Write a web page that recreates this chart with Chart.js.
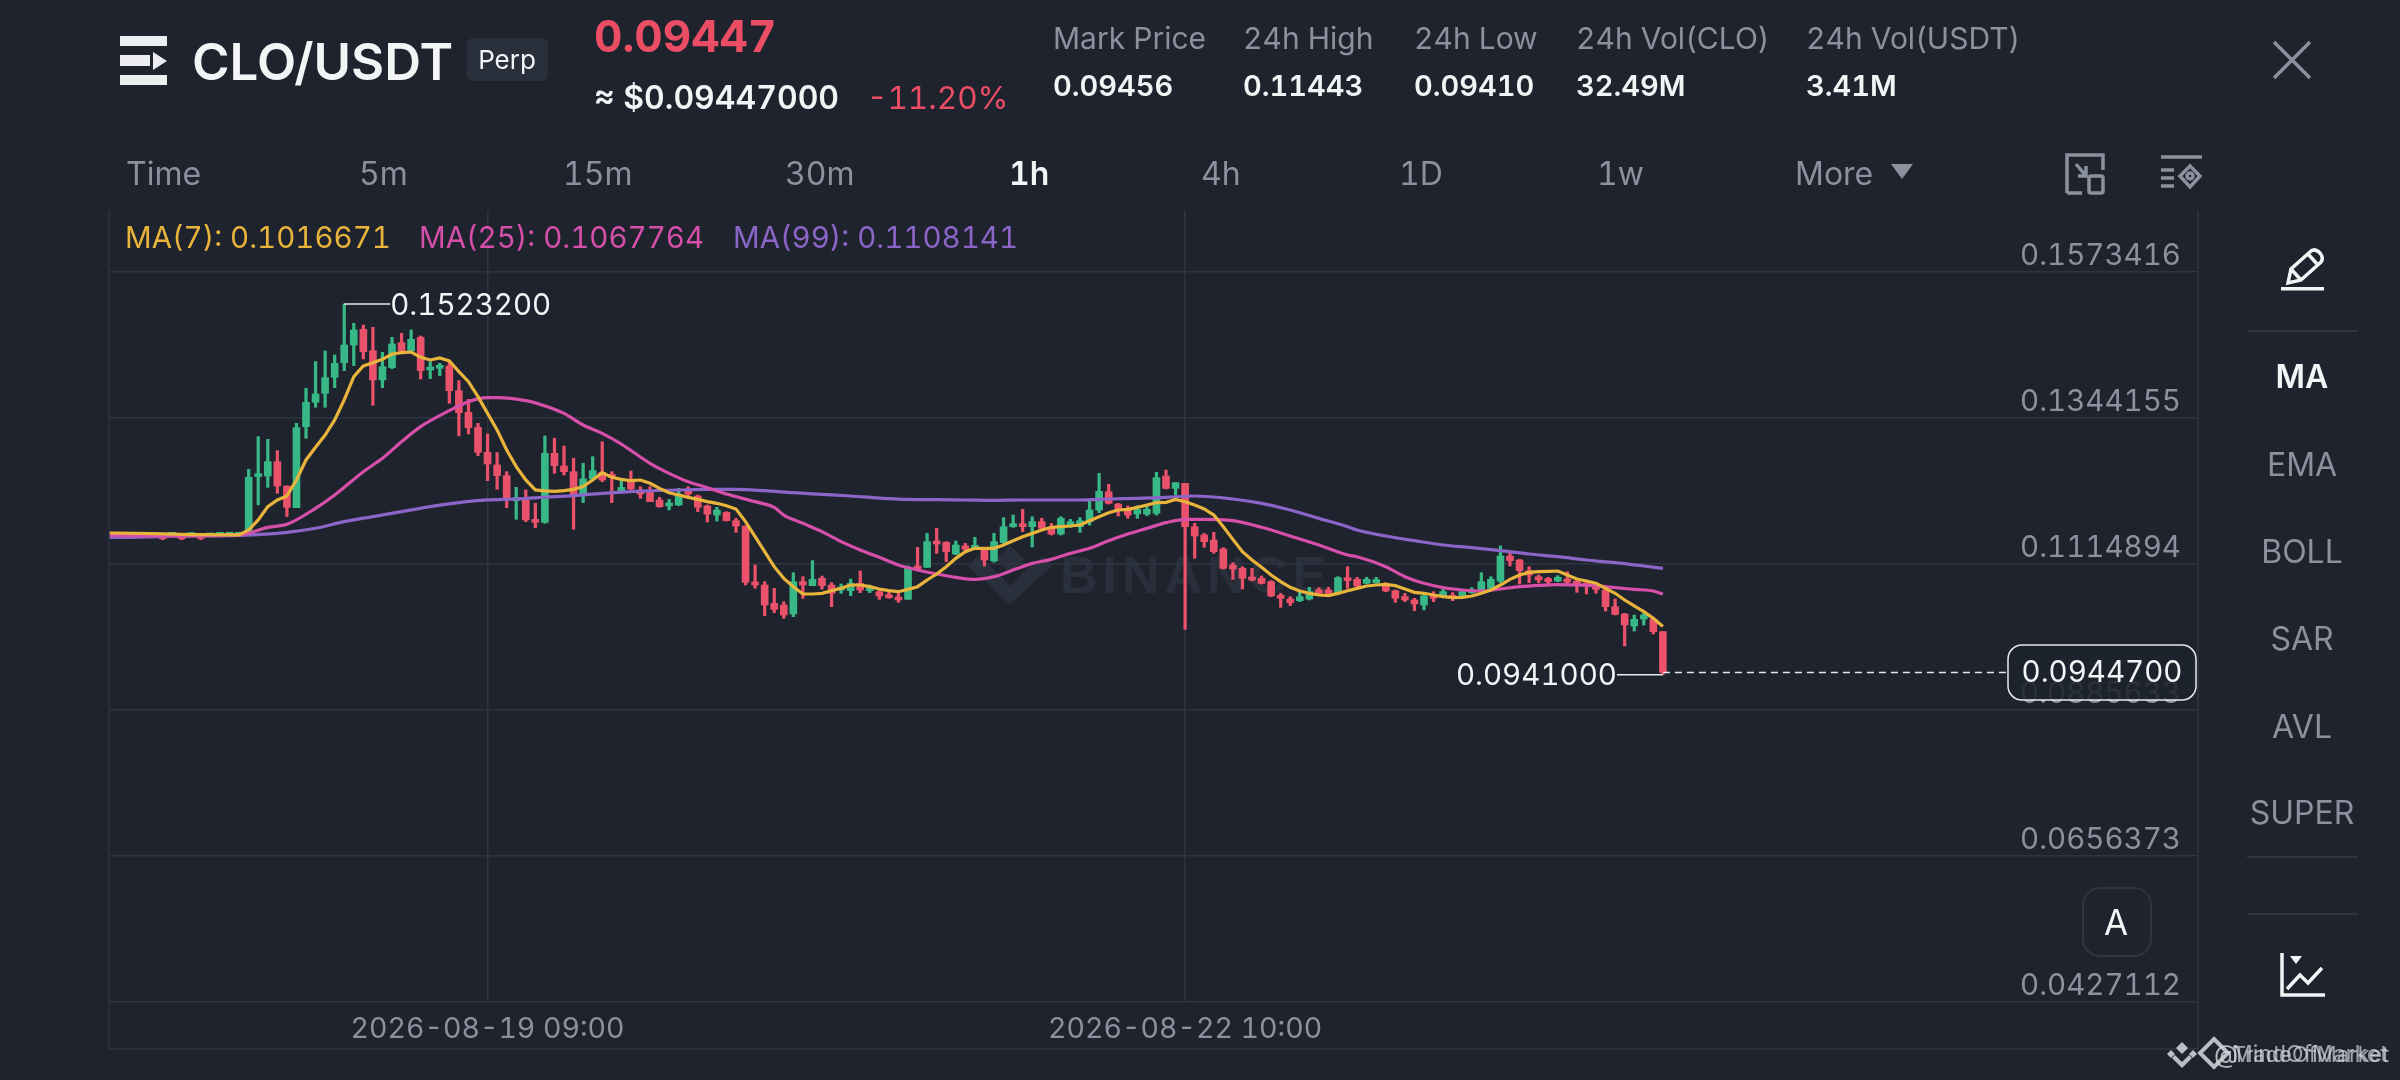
<!DOCTYPE html>
<html><head><meta charset="utf-8">
<script src="https://cdn.jsdelivr.net/npm/chart.js@4"></script>
<style>
html,body{margin:0;padding:0;width:2400px;height:1080px;overflow:hidden;background:#1e232e;font-family:Inter,"Noto Sans",sans-serif;font-variant-numeric:tabular-nums}
#c{position:absolute;left:0;top:0;z-index:2}
.t{position:absolute;white-space:nowrap;line-height:1;transform:translateY(-50%);z-index:3}
.m{position:absolute;white-space:nowrap;line-height:1;transform:translate(-50%,-50%);z-index:3}
.g{color:#8b929e}.w{color:#f3f4f6}.r{color:#ea4d64}
svg{position:absolute;z-index:3}
.h{position:absolute;height:2px;background:#2f3540;z-index:3}
</style></head><body>
<svg style="left:0;top:0;z-index:1" width="2400" height="1080">
<g fill="#2a303b"><path d="M1010 547l14 14-14 14-14-14zM1010 607l-32-31 10-10 22 22 22-22 10 10zM978 558l10 10-10 10-10-10zM1042 558l10 10-10 10-10-10z" transform="translate(0,-2)"/></g>
<text x="1060" y="593" font-family="Liberation Sans" font-weight="700" font-size="52" letter-spacing="5" fill="#2a303b">BINANCE</text>
</svg>

<svg style="left:0;top:0" width="260" height="100"><g fill="#eceef1"><rect x="120" y="36" width="47" height="10"/><rect x="120" y="75" width="47" height="10"/><rect x="120" y="55" width="30" height="11"/><path d="M153 52l14 9-14 9z"/></g></svg>
<div class="t w" style="left:192px;top:61px;font-size:51px;font-weight:600">CLO/USDT</div>
<div style="position:absolute;left:467px;top:38px;width:81px;height:43px;background:#2a303b;border-radius:6px;z-index:2"></div>
<div class="m w" style="left:507px;top:60px;font-size:26px">Perp</div>
<div class="t r" style="left:594px;top:36px;font-size:44px;font-weight:700">0.09447</div>
<div class="t w" style="left:594px;top:98px;font-size:32px;font-weight:600">≈ $0.09447000</div>
<div class="t r" style="left:867px;top:98px;font-size:31.5px;font-weight:400">-11.20%</div>

<div class="t g" style="left:1053px;top:38px;font-size:30px">Mark Price</div>
<div class="t g" style="left:1243px;top:38px;font-size:30px">24h High</div>
<div class="t g" style="left:1414px;top:38px;font-size:30px">24h Low</div>
<div class="t g" style="left:1576px;top:38px;font-size:30px">24h Vol(CLO)</div>
<div class="t g" style="left:1806px;top:38px;font-size:30px">24h Vol(USDT)</div>
<div class="t w" style="left:1053px;top:85px;font-size:29px;font-weight:600">0.09456</div>
<div class="t w" style="left:1243px;top:85px;font-size:29px;font-weight:600">0.11443</div>
<div class="t w" style="left:1414px;top:85px;font-size:29px;font-weight:600">0.09410</div>
<div class="t w" style="left:1576px;top:85px;font-size:29px;font-weight:600">32.49M</div>
<div class="t w" style="left:1806px;top:85px;font-size:29px;font-weight:600">3.41M</div>
<svg style="left:2270px;top:38px" width="44" height="44"><path d="M4 4L40 40M40 4L4 40" stroke="#8b929e" stroke-width="3.5" fill="none"/></svg>

<div class="t g" style="left:126px;top:174px;font-size:32px">Time</div>
<div class="t g" style="left:359px;top:174px;font-size:32px">5m</div>
<div class="t g" style="left:563px;top:174px;font-size:32px">15m</div>
<div class="t g" style="left:785px;top:174px;font-size:32px">30m</div>
<div class="t w" style="left:1009px;top:174px;font-size:32px;font-weight:600">1h</div>
<div class="t g" style="left:1201px;top:174px;font-size:32px">4h</div>
<div class="t g" style="left:1399px;top:174px;font-size:32px">1D</div>
<div class="t g" style="left:1597px;top:174px;font-size:32px">1w</div>
<div class="t g" style="left:1795px;top:174px;font-size:32px">More</div>
<svg style="left:1890px;top:163px" width="24" height="18"><path d="M1 1H23L12 16z" fill="#8b929e"/></svg>
<svg style="left:2064px;top:150px" width="44" height="46" fill="none" stroke="#8b929e" stroke-width="3.5"><path d="M3 43V5H39V20M3 43H18M12 14L22 26M22 16V26H14"/><rect x="25" y="26" width="14" height="17" rx="2"/></svg>
<svg style="left:2158px;top:152px" width="46" height="42" fill="none" stroke="#8b929e" stroke-width="3.5"><path d="M3 5H44M3 18H16M3 26H16M3 34H16M32 14L42 24L32 35L22 24z"/><circle cx="32" cy="24" r="3"/></svg>

<div class="t" id="lg7" style="left:125px;top:238px;font-size:29.5px;color:#e9b43c"></div>
<div class="t" id="lg25" style="left:419px;top:238px;font-size:29.5px;color:#d64fa8"></div>
<div class="t" id="lg99" style="left:733px;top:238px;font-size:29.5px;color:#8b65c8"></div>

<svg style="left:2275px;top:245px" width="55" height="50" fill="none" stroke="#f3f4f6" stroke-width="3.5"><path d="M13 38L16 24L36 6Q40 3 45 8Q49 13 46 17L26 35zM16 24L26 35M33 9L43 20"/><rect x="6" y="42" width="43" height="3.5" fill="#f3f4f6" stroke="none"/></svg>
<div class="h" style="left:2247px;top:330px;width:111px"></div>
<div class="m w" style="left:2302px;top:377px;font-size:32px;font-weight:600">MA</div>
<div class="m g" style="left:2302px;top:465px;font-size:32px">EMA</div>
<div class="m g" style="left:2302px;top:552px;font-size:32px">BOLL</div>
<div class="m g" style="left:2302px;top:639px;font-size:32px">SAR</div>
<div class="m g" style="left:2302px;top:727px;font-size:32px">AVL</div>
<div class="m g" style="left:2302px;top:813px;font-size:32px">SUPER</div>
<div class="h" style="left:2247px;top:856px;width:111px"></div>
<div class="h" style="left:2247px;top:913px;width:111px"></div>
<svg style="left:2276px;top:950px" width="52" height="50" fill="none" stroke="#f3f4f6" stroke-width="3.5"><path d="M6 3V45H49M11 39L24 25L32 33L46 18"/><path d="M14 6H26L20 14z" fill="#f3f4f6" stroke="none"/></svg>
<div style="position:absolute;left:2082px;top:887px;width:66px;height:66px;border:2px solid #2f3540;border-radius:18px;z-index:3"></div>
<div class="m w" style="left:2116px;top:922px;font-size:35px">A</div>

<svg style="left:2165px;top:1035px;opacity:.85" width="70" height="40" fill="#d8dade"><path d="M17 7l6 6-6 6-6-6zM17 33l-10-10 3-3 7 7 7-7 3 3zM6 15l4 4-4 4-4-4zM28 15l4 4-4 4-4-4z"/><path d="M49 4l14 14-14 14-14-14z" fill="none" stroke="#d8dade" stroke-width="4"/></svg>
<div class="t" style="left:2214px;top:1054px;font-size:25px;color:#d8dade;opacity:.8">@</div>
<div class="t" style="left:2232px;top:1054px;font-size:23px;color:#d8dade;opacity:.7">MindOfMarket</div>
<div class="t" style="left:2232px;top:1054px;font-size:22px;color:#d8dade;opacity:.7">TradeOfMarket</div>

<canvas id="c" width="2400" height="1080"></canvas>
<script>
const openPrices=[.11620,.11625,.11610,.11595,.11585,.11590,.11600,.11585,.11595,.11585,.11590,.11600,.11600,.11600,
.11605,.12521,.12531,.12756,.12374,.12034,.13306,.13688,.13829,.14081,.14311,.14588,.14834,.14499,.14039,.14232,
.14625,.14494,.14709,.14196,.14222,.14259,.13871,.13531,.13296,.12903,.12704,.12537,.12144,.12155,.11841,.11804,
.12887,.12688,.12599,.12233,.12484,.12588,.12546,.12300,.12468,.12311,.12285,.12154,.12060,.12075,.12295,.12217,
.12060,.11918,.11960,.11829,.11746,.10861,.10819,.10531,.10505,.10364,.10872,.10809,.10924,.10819,.10741,.10730,
.10845,.10730,.10714,.10662,.10620,.10594,.11107,.11097,.11500,.11489,.11306,.11432,.11395,.11379,.11196,.11484,
.11735,.11777,.11735,.11814,.11725,.11620,.11746,.11735,.11814,.11997,.12285,.12091,.12023,.11934,.11934,.11945,
.12531,.12337,.12416,.11735,.11604,.11526,.11385,.11133,.11081,.10934,.10924,.10872,.10652,.10599,.10573,.10599,
.10741,.10741,.10699,.10934,.10908,.10846,.10856,.10835,.10730,.10636,.10584,.10505,.10662,.10647,.10647,.10636,
.10699,.10741,.10767,.10882,.11275,.11212,.11044,.10950,.10919,.10882,.10908,.10882,.10835,.10819,.10741,.10479,
.10364,.10176,.10285,.10280,.10087];
const highPrices=[.11640,.11640,.11630,.11620,.11615,.11600,.11640,.11600,.11640,.11600,.11615,.11640,.11640,.11615,
.12636,.13149,.13107,.12929,.12374,.13358,.13908,.14327,.14494,.14431,.15232,.14929,.14902,.14866,.14473,.14709,
.14772,.14824,.14730,.14327,.14300,.14327,.14028,.13735,.13358,.13191,.12898,.12599,.12353,.12312,.12102,.13160,
.13123,.13002,.12809,.12730,.12835,.13070,.12599,.12468,.12609,.12363,.12363,.12196,.12164,.12337,.12363,.12232,
.12075,.12039,.11971,.11866,.11746,.11133,.10872,.10767,.10557,.11013,.10950,.11201,.10960,.10856,.10835,.10913,
.11039,.10819,.10741,.10714,.10730,.11118,.11411,.11630,.11709,.11500,.11510,.11473,.11568,.11395,.11630,.11876,
.11918,.12007,.11892,.11866,.11787,.11892,.11850,.11877,.12143,.12573,.12400,.12102,.12060,.12065,.12075,.12588,
.12625,.12426,.12416,.11788,.11630,.11646,.11405,.11170,.11107,.11081,.10961,.10887,.10688,.10636,.10704,.10783,
.10777,.10783,.10950,.11107,.10940,.10940,.10940,.10856,.10741,.10688,.10610,.10662,.10715,.10757,.10699,.10741,
.10778,.11013,.10950,.11432,.11327,.11222,.11107,.10976,.10940,.10966,.11029,.10887,.10856,.10846,.10751,.10600,
.10374,.10348,.10390,.10296,.10087];
const lowPrices=[.11590,.11595,.11580,.11575,.11570,.11530,.11590,.11530,.11585,.11530,.11575,.11590,.11590,.11585,
.11605,.12076,.12353,.12259,.11893,.12034,.13123,.13610,.13610,.13918,.14185,.14264,.14369,.13641,.13918,.14217,
.14484,.14484,.14054,.14060,.14107,.13672,.13160,.13191,.12851,.12458,.12322,.12034,.11851,.11814,.11720,.11788,
.12573,.12547,.11694,.12113,.12469,.12442,.12112,.12285,.12311,.12180,.12128,.12039,.11997,.12065,.12217,.11971,
.11808,.11824,.11824,.11646,.10819,.10767,.10338,.10385,.10296,.10322,.10610,.10809,.10756,.10479,.10688,.10652,
.10699,.10699,.10594,.10610,.10547,.10594,.11055,.11097,.11316,.11186,.11295,.11343,.11390,.11118,.11180,.11473,
.11725,.11657,.11416,.11683,.11604,.11604,.11725,.11646,.11761,.11955,.12091,.11903,.11866,.11866,.11908,.11918,
.12327,.12232,.10123,.11238,.11411,.11316,.11070,.10908,.10756,.10882,.10835,.10636,.10469,.10495,.10558,.10584,
.10678,.10636,.10688,.10767,.10793,.10835,.10846,.10715,.10547,.10558,.10416,.10427,.10558,.10626,.10573,.10626,
.10689,.10741,.10751,.10856,.11118,.10835,.10856,.10856,.10835,.10872,.10835,.10704,.10678,.10689,.10411,.10348,
.09862,.10097,.10191,.10050,.09410];
const closePrices=[.11600,.11600,.11590,.11585,.11600,.11545,.11630,.11545,.11630,.11550,.11600,.11630,.11630,.11605,
.12511,.12563,.12756,.12374,.12039,.13290,.13688,.13819,.14075,.14300,.14588,.14824,.14484,.14039,.14248,.14604,
.14494,.14677,.14185,.14222,.14259,.13871,.13526,.13290,.12903,.12720,.12537,.12155,.12181,.11841,.11804,.12887,
.12694,.12599,.12207,.12484,.12615,.12468,.12510,.12350,.12327,.12248,.12128,.12049,.12102,.12248,.12248,.12039,
.11934,.11997,.11829,.11746,.10861,.10819,.10505,.10437,.10348,.10872,.10819,.10908,.10809,.10688,.10767,.10845,
.10741,.10767,.10646,.10620,.10584,.11091,.11070,.11500,.11463,.11343,.11447,.11379,.11432,.11212,.11500,.11735,
.11772,.11735,.11814,.11709,.11620,.11866,.11814,.11829,.11997,.12290,.12102,.11997,.11918,.12007,.12007,.12505,
.12337,.12426,.11735,.11589,.11500,.11343,.11081,.11070,.10924,.10898,.10845,.10647,.10610,.10542,.10636,.10715,
.10688,.10688,.10934,.10887,.10804,.10908,.10887,.10725,.10610,.10584,.10521,.10647,.10610,.10715,.10610,.10715,
.10741,.10872,.10908,.11275,.11201,.11044,.10976,.10898,.10872,.10940,.10866,.10819,.10804,.10751,.10479,.10359,
.10191,.10280,.10348,.10087,.09447];

const ma7Index=[-1,0,4,8,13,14,15,16,17,18,19,20,21,22,23,24,25,26,27,28,29,30,31,32,33,34,35,36,37,38,39,40,41,42,43,44,45,46,47,48,49,50,51,52,53,54,55,56,57,58,59,60,61,62,63,64,65,66,67,68,69,70,71,72,73,74,75,76,77,78,79,80,81,82,83,84,85,86,87,88,89,90,91,92,93,94,95,96,97,98,99,100,101,102,103,104,105,106,107,108,109,110,111,112,113,114,115,116,117,118,119,120,121,122,123,124,125,126,127,128,129,130,131,132,133,134,135,136,137,138,139,140,141,142,143,144,145,146,147,148,149,150,151,152,153,154,155,156,157,158,159,160,161,162];
const ma7Values=[.11636,.11636,.11625,.11610,.11605,.11683,.11841,.12050,.12155,.12217,.12469,.12783,.12982,.13175,.13411,.13725,.14091,.14259,.14311,.14363,.14447,.14468,.14478,.14395,.14353,.14384,.14337,.14170,.14013,.13777,.13515,.13254,.12940,.12678,.12469,.12312,.12296,.12291,.12301,.12322,.12365,.12468,.12583,.12510,.12478,.12457,.12468,.12416,.12337,.12269,.12232,.12196,.12164,.12128,.12102,.12065,.12013,.11814,.11578,.11343,.11107,.10924,.10793,.10678,.10678,.10688,.10730,.10767,.10819,.10819,.10793,.10756,.10730,.10714,.10751,.10793,.10898,.10992,.11107,.11238,.11343,.11395,.11395,.11395,.11447,.11515,.11578,.11630,.11683,.11725,.11735,.11746,.11761,.11829,.11892,.11955,.11997,.12007,.12039,.12075,.12112,.12117,.12164,.12128,.12075,.12013,.11918,.11735,.11536,.11343,.11212,.11097,.10976,.10872,.10783,.10725,.10688,.10662,.10652,.10688,.10730,.10767,.10804,.10819,.10830,.10809,.10757,.10704,.10689,.10662,.10636,.10620,.10626,.10647,.10689,.10741,.10819,.10908,.10976,.11018,.11029,.11034,.11039,.10976,.10914,.10882,.10846,.10767,.10689,.10584,.10490,.10401,.10296,.10167];
const ma25Index=[-1,0,5,13,16,18,21,23,26,28,30,32,35,37,39,40,43,45,47,49,51,53,56,58,60,62,64,67,69,70,72,74,76,78,80,82,84,86,88,90,92,94,96,98,100,102,104,106,108,110,112,114,117,120,123,126,129,130,133,135,137,139,141,143,145,147,149,151,153,155,157,159,161,162];
const ma25Values=[.11600,.11600,.11590,.11605,.11725,.11772,.12024,.12233,.12599,.12809,.13070,.13306,.13557,.13699,.13761,.13761,.13714,.13631,.13515,.13332,.13201,.13033,.12730,.12573,.12442,.12347,.12248,.12128,.12039,.11918,.11788,.11657,.11500,.11369,.11254,.11133,.11055,.10992,.10940,.10908,.10950,.11055,.11159,.11222,.11316,.11395,.11515,.11620,.11709,.11798,.11850,.11850,.11829,.11725,.11589,.11447,.11290,.11264,.11107,.10950,.10846,.10778,.10741,.10725,.10757,.10793,.10814,.10825,.10819,.10809,.10778,.10751,.10725,.10678];
const ma99Index=[-1,0,6,13,18,21,24,27,30,33,36,39,42,45,48,51,55,59,62,65,68,71,74,77,80,83,86,89,92,95,98,101,104,107,110,113,117,120,123,126,129,130,133,136,139,142,145,148,151,154,157,160,162];
const ma99Values=[.11565,.11565,.11585,.11600,.11647,.11710,.11814,.11893,.11971,.12050,.12113,.12155,.12170,.12197,.12223,.12259,.12295,.12311,.12321,.12321,.12300,.12269,.12243,.12217,.12185,.12164,.12159,.12154,.12149,.12154,.12154,.12154,.12170,.12180,.12196,.12217,.12170,.12102,.11997,.11866,.11735,.11683,.11589,.11515,.11447,.11406,.11358,.11306,.11264,.11212,.11170,.11118,.11081];

const yTickLabels=["0.1573416","0.1344155","0.1114894","0.0885633","0.0656373","0.0427112"];
const xTickIndex=[39,112];
const xTickLabels=["2026-08-19 09:00","2026-08-22 10:00"];
const maLegend=["MA(7): 0.1016671","MA(25): 0.1067764","MA(99): 0.1108141"];
const highLabel="0.1523200", lowLabel="0.0941000", lastLabel="0.0944700";
const highIndex=24, highValue=.15232, lowValue=.0941, lastValue=.09447;

const UP="#37b886", DOWN="#e9526a", GRID="#2f3540", TICK="#8b929e";
const FONT='Inter,"Noto Sans",sans-serif';
document.getElementById('lg7').textContent=maLegend[0];
document.getElementById('lg25').textContent=maLegend[1];
document.getElementById('lg99').textContent=maLegend[2];

const idx=openPrices.map((_,i)=>i);
const colors=idx.map(i=>closePrices[i]>=openPrices[i]?UP:DOWN);
const pts=(ix,v)=>ix.map((x,k)=>({x,y:v[k]}));
const lastIndex=idx.length-1;

const overlay={id:'overlay',
 afterDraw(ch){
  const {ctx,chartArea:a,scales:{x,y}}=ch;
  ctx.save();
  ctx.strokeStyle=GRID;ctx.lineWidth=1.5;
  ctx.beginPath();
  ctx.moveTo(a.left,a.top);ctx.lineTo(a.left,1049);ctx.lineTo(a.right,1049);ctx.lineTo(a.right,a.top);
  ctx.stroke();

  ctx.font='29.5px '+FONT;ctx.fillStyle='#f3f4f6';ctx.strokeStyle='#e8eaed';ctx.lineWidth=1.5;ctx.textBaseline='middle';
  const hx=x.getPixelForValue(highIndex),hy=y.getPixelForValue(highValue);
  ctx.beginPath();ctx.moveTo(hx,hy);ctx.lineTo(hx+46,hy);ctx.stroke();
  ctx.textAlign='left';ctx.fillText(highLabel,hx+46,hy+2);

  const lx=x.getPixelForValue(lastIndex),ly=y.getPixelForValue(lowValue);
  ctx.beginPath();ctx.moveTo(lx,ly);ctx.lineTo(lx-46,ly);ctx.stroke();
  ctx.textAlign='right';ctx.fillText(lowLabel,lx-46,ly+1);

  const py=y.getPixelForValue(lastValue);
  ctx.setLineDash([7,5]);
  ctx.beginPath();ctx.moveTo(lx,py);ctx.lineTo(2008,py);ctx.stroke();
  ctx.setLineDash([]);
  ctx.beginPath();ctx.roundRect(2008,645,188,55,14);
  ctx.fillStyle='rgba(30,35,46,0.88)';ctx.fill();
  ctx.strokeStyle='#e8eaed';ctx.stroke();
  ctx.fillStyle='#f3f4f6';ctx.textAlign='center';ctx.fillText(lastLabel,2102,py+1);
  ctx.restore();
}};

new Chart(document.getElementById('c'),{
  type:'bar',
  data:{datasets:[
    {type:'line',label:'MA(7)',data:pts(ma7Index,ma7Values),borderColor:'#e9b43c',borderWidth:3.2,pointRadius:0,tension:0,order:1},
    {type:'line',label:'MA(25)',data:pts(ma25Index,ma25Values),borderColor:'#d64fa8',borderWidth:3.2,pointRadius:0,cubicInterpolationMode:'monotone',order:2},
    {type:'line',label:'MA(99)',data:pts(ma99Index,ma99Values),borderColor:'#8b65c8',borderWidth:3.2,pointRadius:0,cubicInterpolationMode:'monotone',order:3},
    {label:'Body',data:idx.map(i=>({x:i,y:[openPrices[i],closePrices[i]]})),backgroundColor:colors,barThickness:7,minBarLength:3,grouped:false,order:4},
    {label:'Wick',data:idx.map(i=>({x:i,y:[lowPrices[i],highPrices[i]]})),backgroundColor:colors,barThickness:2.6,grouped:false,order:5}
  ]},
  options:{
    responsive:false,devicePixelRatio:1,animation:false,
    layout:{padding:{left:109,right:202,top:210,bottom:31}},
    plugins:{legend:{display:false},tooltip:{enabled:false}},
    scales:{
      x:{type:'linear',min:-0.617,max:218,offset:false,
        afterBuildTicks:s=>{s.ticks=xTickIndex.map(v=>({value:v}))},
        afterFit:s=>{s.height=47},
        grid:{color:GRID,lineWidth:1.5,drawTicks:false,offset:false},border:{display:false},
        ticks:{autoSkip:false,maxRotation:0,padding:10,color:TICK,font:{size:28.5,family:FONT},
          callback:v=>xTickLabels[xTickIndex.indexOf(v)]||''}},
      y:{type:'linear',position:'right',min:.0427112,max:.16708,
        afterBuildTicks:s=>{s.ticks=yTickLabels.map(l=>({value:parseFloat(l)}))},
        afterFit:s=>{s.width=0},
        grid:{color:GRID,lineWidth:1.5,drawTicks:false},border:{display:false},
        ticks:{mirror:true,padding:-17,color:TICK,font:{size:29.5,family:FONT,lineHeight:'31px'},
          callback:v=>[yTickLabels.find(l=>Math.abs(parseFloat(l)-v)<1e-9)||'','']}}
    }
  },
  plugins:[overlay]
});
</script>
</body></html>
